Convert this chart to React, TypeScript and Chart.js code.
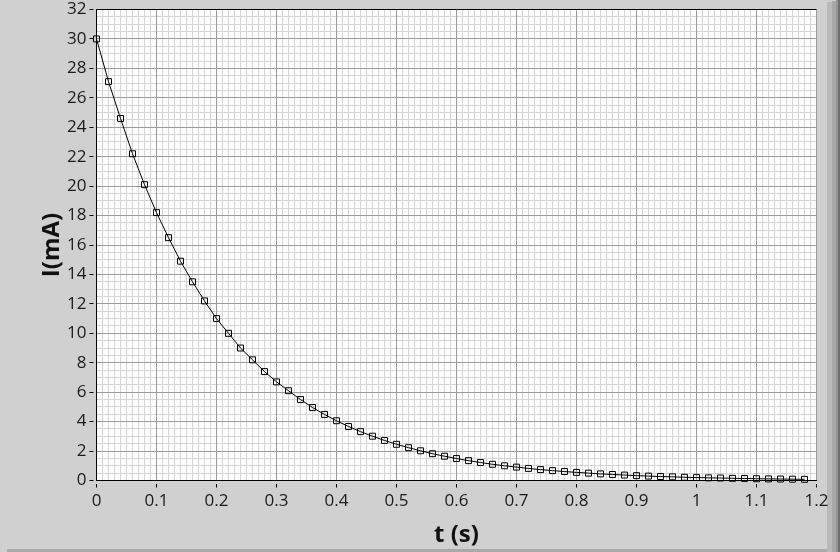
import React, { useEffect, useRef } from "react";
import { Chart, registerables } from "chart.js";

Chart.register(...registerables);

// time (s)
const times = [
  0, 0.02, 0.04, 0.06, 0.08, 0.1, 0.12, 0.14, 0.16, 0.18,
  0.2, 0.22, 0.24, 0.26, 0.28, 0.3, 0.32, 0.34, 0.36, 0.38,
  0.4, 0.42, 0.44, 0.46, 0.48, 0.5, 0.52, 0.54, 0.56, 0.58,
  0.6, 0.62, 0.64, 0.66, 0.68, 0.7, 0.72, 0.74, 0.76, 0.78,
  0.8, 0.82, 0.84, 0.86, 0.88, 0.9, 0.92, 0.94, 0.96, 0.98,
  1.0, 1.02, 1.04, 1.06, 1.08, 1.1, 1.12, 1.14, 1.16, 1.18,
];

// current (mA)
const currents = [
  30.0, 27.1, 24.6, 22.2, 20.1, 18.2, 16.5, 14.9, 13.5, 12.2,
  11.0, 10.0, 9.0, 8.2, 7.4, 6.7, 6.1, 5.5, 4.96, 4.49,
  4.06, 3.67, 3.32, 3.01, 2.72, 2.46, 2.23, 2.02, 1.82, 1.65,
  1.49, 1.35, 1.22, 1.1, 1.0, 0.91, 0.82, 0.74, 0.67, 0.61,
  0.55, 0.5, 0.45, 0.41, 0.37, 0.33, 0.3, 0.27, 0.25, 0.22,
  0.2, 0.18, 0.17, 0.15, 0.14, 0.12, 0.11, 0.1, 0.09, 0.08,
];

const xRange = [0, 1.2];
const yRange = [0, 32];
const xMajorStep = 0.1;
const xMinorStep = 0.01;
const yMajorStep = 2;
const yMinorStep = 0.5;
const xTitle = "t (s)";
const yTitle = "I(mA)";

const FONT = "'Open Sans', 'Noto Sans', sans-serif";
const MAJOR = "#9b9b9b";
const MINOR = "#d6d6d6";
const LABEL = "#1a1a1a";

const plotBackground = {
  id: "plotBackground",
  beforeDraw(chart: any) {
    const { ctx, chartArea } = chart;
    if (!chartArea) return;
    ctx.save();
    ctx.fillStyle = "#ffffff";
    ctx.fillRect(
      chartArea.left,
      chartArea.top,
      chartArea.right - chartArea.left,
      chartArea.bottom - chartArea.top
    );
    ctx.restore();
  },
};

export default function App() {
  const ref = useRef<HTMLCanvasElement | null>(null);

  useEffect(() => {
    if (!ref.current) return;
    const points = times.map((t, i) => ({ x: t, y: currents[i] }));
    const chart = new Chart(ref.current, {
      type: "line",
      data: {
        datasets: [
          {
            data: points,
            borderColor: "#000",
            borderWidth: 1,
            tension: 0,
            pointStyle: "rect",
            pointRadius: 4.2,
            pointBorderWidth: 1,
            pointBorderColor: "#000",
            pointBackgroundColor: "rgba(0,0,0,0)",
            clip: false as any,
          },
        ],
      },
      plugins: [plotBackground],
      options: {
        animation: false,
        responsive: false,
        devicePixelRatio: 1,
        layout: { padding: { top: 9.5, right: 23.5, left: 0, bottom: 0 } },
        plugins: { legend: { display: false }, tooltip: { enabled: false } },
        scales: {
          xMinor: {
            type: "linear",
            axis: "x",
            position: "bottom",
            min: xRange[0],
            max: xRange[1],
            afterFit: (s: any) => {
              s.height = 0;
              s.paddingLeft = 0;
              s.paddingRight = 0;
            },
            ticks: { display: false, stepSize: xMinorStep, maxTicksLimit: 1000 },
            grid: { color: MINOR, lineWidth: 1, drawTicks: false, z: -2 },
            border: { display: false },
          },
          yMinor: {
            type: "linear",
            axis: "y",
            position: "left",
            min: yRange[0],
            max: yRange[1],
            afterFit: (s: any) => {
              s.width = 0;
              s.paddingTop = 0;
              s.paddingBottom = 0;
            },
            ticks: { display: false, stepSize: yMinorStep, maxTicksLimit: 1000 },
            grid: { color: MINOR, lineWidth: 1, drawTicks: false, z: -2 },
            border: { display: false },
          },
          x: {
            type: "linear",
            position: "bottom",
            min: xRange[0],
            max: xRange[1],
            afterFit: (s: any) => {
              s.height = 71.5;
              s.paddingLeft = 0;
              s.paddingRight = 0;
            },
            ticks: {
              stepSize: xMajorStep,
              autoSkip: false,
              maxRotation: 0,
              padding: 3,
              color: LABEL,
              font: { family: FONT, size: 17 },
              callback: (v: any) => String(Math.round(Number(v) * 10) / 10),
            },
            grid: {
              color: MAJOR,
              lineWidth: 1,
              drawTicks: true,
              tickLength: 7,
              tickColor: "#000",
              tickBorderDash: [0, 3, 4, 0],
              z: -1,
            },
            border: { display: true, color: "#000", width: 1 },
            title: {
              display: true,
              text: xTitle,
              color: "#111",
              font: { family: FONT, size: 24, weight: "bold" },
              padding: { top: 0, bottom: 2 },
            },
          },
          y: {
            type: "linear",
            position: "left",
            min: yRange[0],
            max: yRange[1],
            afterFit: (s: any) => {
              s.width = 96.5;
              s.paddingTop = 0;
              s.paddingBottom = 0;
            },
            ticks: {
              stepSize: yMajorStep,
              autoSkip: false,
              padding: 3,
              color: LABEL,
              font: { family: FONT, size: 17 },
              callback: (v: any) => String(v),
            },
            grid: {
              color: (c: any) =>
                c.tick && c.tick.value === yRange[1] ? "#000" : MAJOR,
              lineWidth: 1,
              drawTicks: true,
              tickLength: 7,
              tickColor: "#000",
              tickBorderDash: [4, 3],
              z: -1,
            },
            border: { display: true, color: "#000", width: 1 },
            title: {
              display: true,
              text: yTitle,
              color: "#111",
              font: { family: FONT, size: 24, weight: "bold" },
              padding: { top: 37.6, bottom: 0 },
            },
          },
        },
      } as any,
    });
    return () => chart.destroy();
  }, []);

  return (
    <div
      style={{
        position: "absolute",
        left: 0,
        top: 0,
        width: 840,
        height: 552,
        background: "#d0d0d0",
        overflow: "hidden",
      }}
    >
      <div style={{ position: "absolute", left: 827, top: 2, width: 5, height: 550, background: "#b9b9b9" }} />
      <div style={{ position: "absolute", left: 832, top: 1, width: 4, height: 551, background: "#a8a8a8" }} />
      <div style={{ position: "absolute", left: 836, top: 0, width: 2, height: 552, background: "#959595" }} />
      <div style={{ position: "absolute", left: 838, top: 0, width: 2, height: 552, background: "#6f6f6f" }} />
      <div style={{ position: "absolute", left: 7, top: 549, width: 820, height: 3, background: "#a9a9a9" }} />
      <canvas
        ref={ref}
        width={840}
        height={552}
        style={{ position: "absolute", left: 0, top: 0, width: 840, height: 552 }}
      />
    </div>
  );
}
